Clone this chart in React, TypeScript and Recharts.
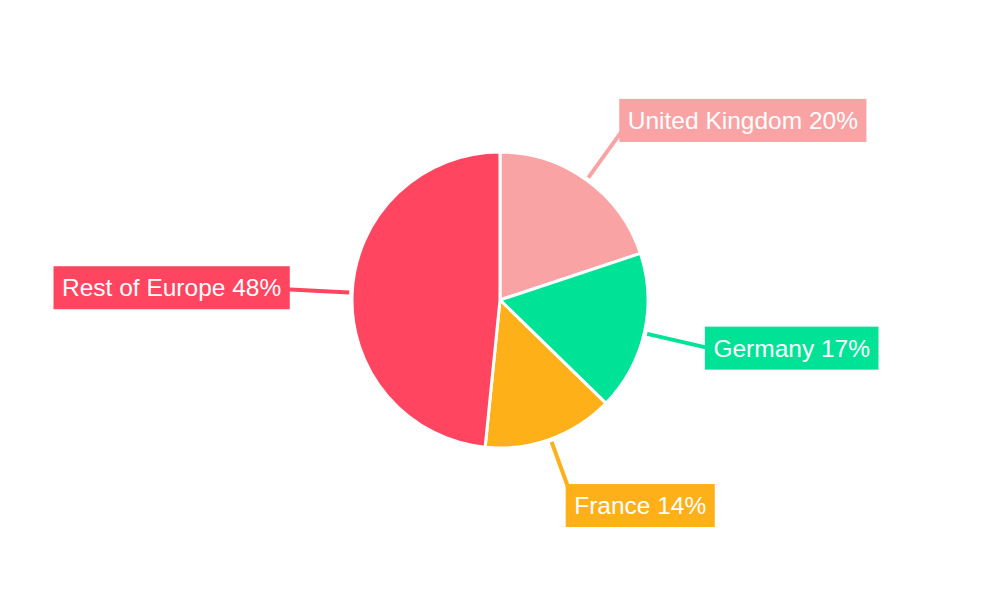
import { useLayoutEffect, useRef, useState } from "react";
import { PieChart, Pie, Cell } from "recharts";

const regions = ["United Kingdom", "Germany", "France", "Rest of Europe"];
const shares = [19.9, 17.4, 14.3, 48.4];
const colors = ["#F9A3A4", "#00E396", "#FEB019", "#FF4560"];

const data = regions.map((name, i) => ({ name, value: shares[i] }));

const RAD = Math.PI / 180;
const FONT = "'Liberation Sans', Arial, sans-serif";

function polar(cx: number, cy: number, r: number, angle: number) {
  return { x: cx + r * Math.cos(-angle * RAD), y: cy + r * Math.sin(-angle * RAD) };
}

function LabelBox(props: any) {
  const { cx, cy, midAngle, outerRadius, percent, name, fill } = props;
  const textRef = useRef<SVGTextElement>(null);
  const [textW, setTextW] = useState(200);

  useLayoutEffect(() => {
    if (textRef.current) setTextW(textRef.current.getComputedTextLength());
  }, [name]);

  const start = polar(cx, cy, outerRadius + 3, midAngle);
  const anchor = polar(cx, cy, outerRadius + 72, midAngle);
  const right = Math.cos(midAngle * RAD) >= 0;
  const padX = 8.5;
  const boxW = textW + padX * 2;
  const boxH = 43;
  const boxX = right ? anchor.x - 9.5 : anchor.x + 9.5 - boxW;
  const midY = anchor.y - 1.2;
  const boxY = midY - boxH / 2;
  const label = `${name} ${Math.round(percent * 100)}%`;

  return (
    <g>
      <line x1={start.x} y1={start.y} x2={anchor.x} y2={anchor.y} stroke={fill} strokeWidth={4} />
      <rect x={boxX} y={boxY} width={boxW} height={boxH} fill={fill} />
      <text
        ref={textRef}
        x={boxX + padX}
        y={midY}
        dominantBaseline="central"
        textAnchor="start"
        fill="#fff"
        fontSize={24.5}
        fontFamily={FONT}
      >
        {label}
      </text>
    </g>
  );
}

export default function App() {
  return (
    <div style={{ position: "fixed", left: 0, top: 0, width: 1000, height: 600, background: "#fff" }}>
      <PieChart width={1000} height={600} margin={{ top: 0, right: 0, bottom: 0, left: 0 }}>
        <Pie
          data={data}
          dataKey="value"
          nameKey="name"
          cx={500}
          cy={300}
          outerRadius={148}
          startAngle={90}
          endAngle={-270}
          stroke="#fff"
          strokeWidth={3}
          labelLine={false}
          label={(p: any) => <LabelBox {...p} />}
          isAnimationActive={false}
        >
          {data.map((d, i) => (
            <Cell key={d.name} fill={colors[i]} />
          ))}
        </Pie>
      </PieChart>
    </div>
  );
}
